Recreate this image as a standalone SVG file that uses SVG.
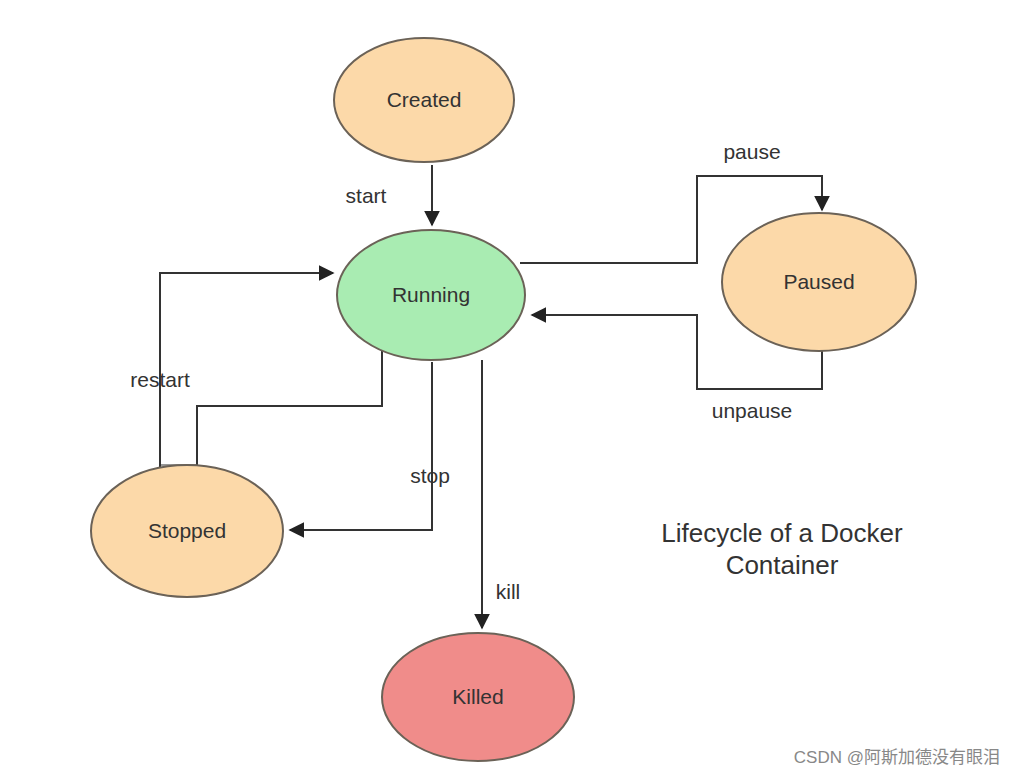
<svg xmlns="http://www.w3.org/2000/svg" width="1010" height="776" viewBox="0 0 1010 776">
<style>
.n{stroke:#6b6257;stroke-width:2}
.o{fill:#fcd9a9}
.t{font-family:"Liberation Sans",Arial,sans-serif;font-size:21px;fill:#333;text-anchor:middle}
.l{fill:none;stroke:#333;stroke-width:2}
</style>
<defs><marker id="a" viewBox="0 0 10 10" refX="9" refY="5" markerWidth="7" markerHeight="7" orient="auto" markerUnits="userSpaceOnUse"><path d="M0,0L10,5L0,10z" fill="#222"/></marker>
<marker id="b" viewBox="0 0 10 10" refX="9" refY="5" markerWidth="16" markerHeight="16" orient="auto" markerUnits="userSpaceOnUse"><path d="M0,0L10,5L0,10z" fill="#222"/></marker></defs>
<rect width="1010" height="776" fill="#fff"/>
<g id="connectors">
<path class="l" d="M432,165V225" marker-end="url(#b)"/>
<path class="l" d="M520,263H697V176H822V210" marker-end="url(#b)"/>
<path class="l" d="M822,350V389H697V315H532" marker-end="url(#b)"/>
<path class="l" d="M160,490V273H333" marker-end="url(#b)"/>
<path class="l" d="M382,345V406H197V490"/>
<rect x="160" y="465" width="37" height="25" fill="none" stroke="#333" stroke-width="1"/>
<path class="l" d="M432,362V530H290" marker-end="url(#b)"/>
<path class="l" d="M482,360V628" marker-end="url(#b)"/>
<text class="t" x="366" y="203">start</text>
<text class="t" x="752" y="159">pause</text>
<text class="t" x="752" y="418">unpause</text>
<text class="t" x="160" y="387">restart</text>
<text class="t" x="430" y="483">stop</text>
<text class="t" x="508" y="599">kill</text>
</g>
<g id="created"><ellipse class="n o" cx="424" cy="100" rx="90" ry="62"/><text class="t" x="424" y="107">Created</text></g>
<g id="running"><ellipse class="n" fill="#a9ecb2" cx="431" cy="295" rx="94" ry="65"/><text class="t" x="431" y="302">Running</text></g>
<g id="paused"><ellipse class="n o" cx="819" cy="282" rx="97" ry="69"/><text class="t" x="819" y="289">Paused</text></g>
<g id="stopped"><ellipse class="n o" cx="187" cy="531" rx="96" ry="66"/><text class="t" x="187" y="538">Stopped</text></g>
<g id="killed"><ellipse class="n" fill="#f08c8a" cx="478" cy="697" rx="96" ry="64"/><text class="t" x="478" y="704">Killed</text></g>
<g id="title"><text class="t" style="font-size:26px" x="782" y="542">Lifecycle of a Docker</text><text class="t" style="font-size:26px" x="782" y="574">Container</text></g>
<text x="1000" y="763" style="font-family:'Liberation Sans','Noto Sans CJK SC',sans-serif;font-size:17px;fill:#888;text-anchor:end">CSDN @阿斯加德没有眼泪</text>
</svg>
